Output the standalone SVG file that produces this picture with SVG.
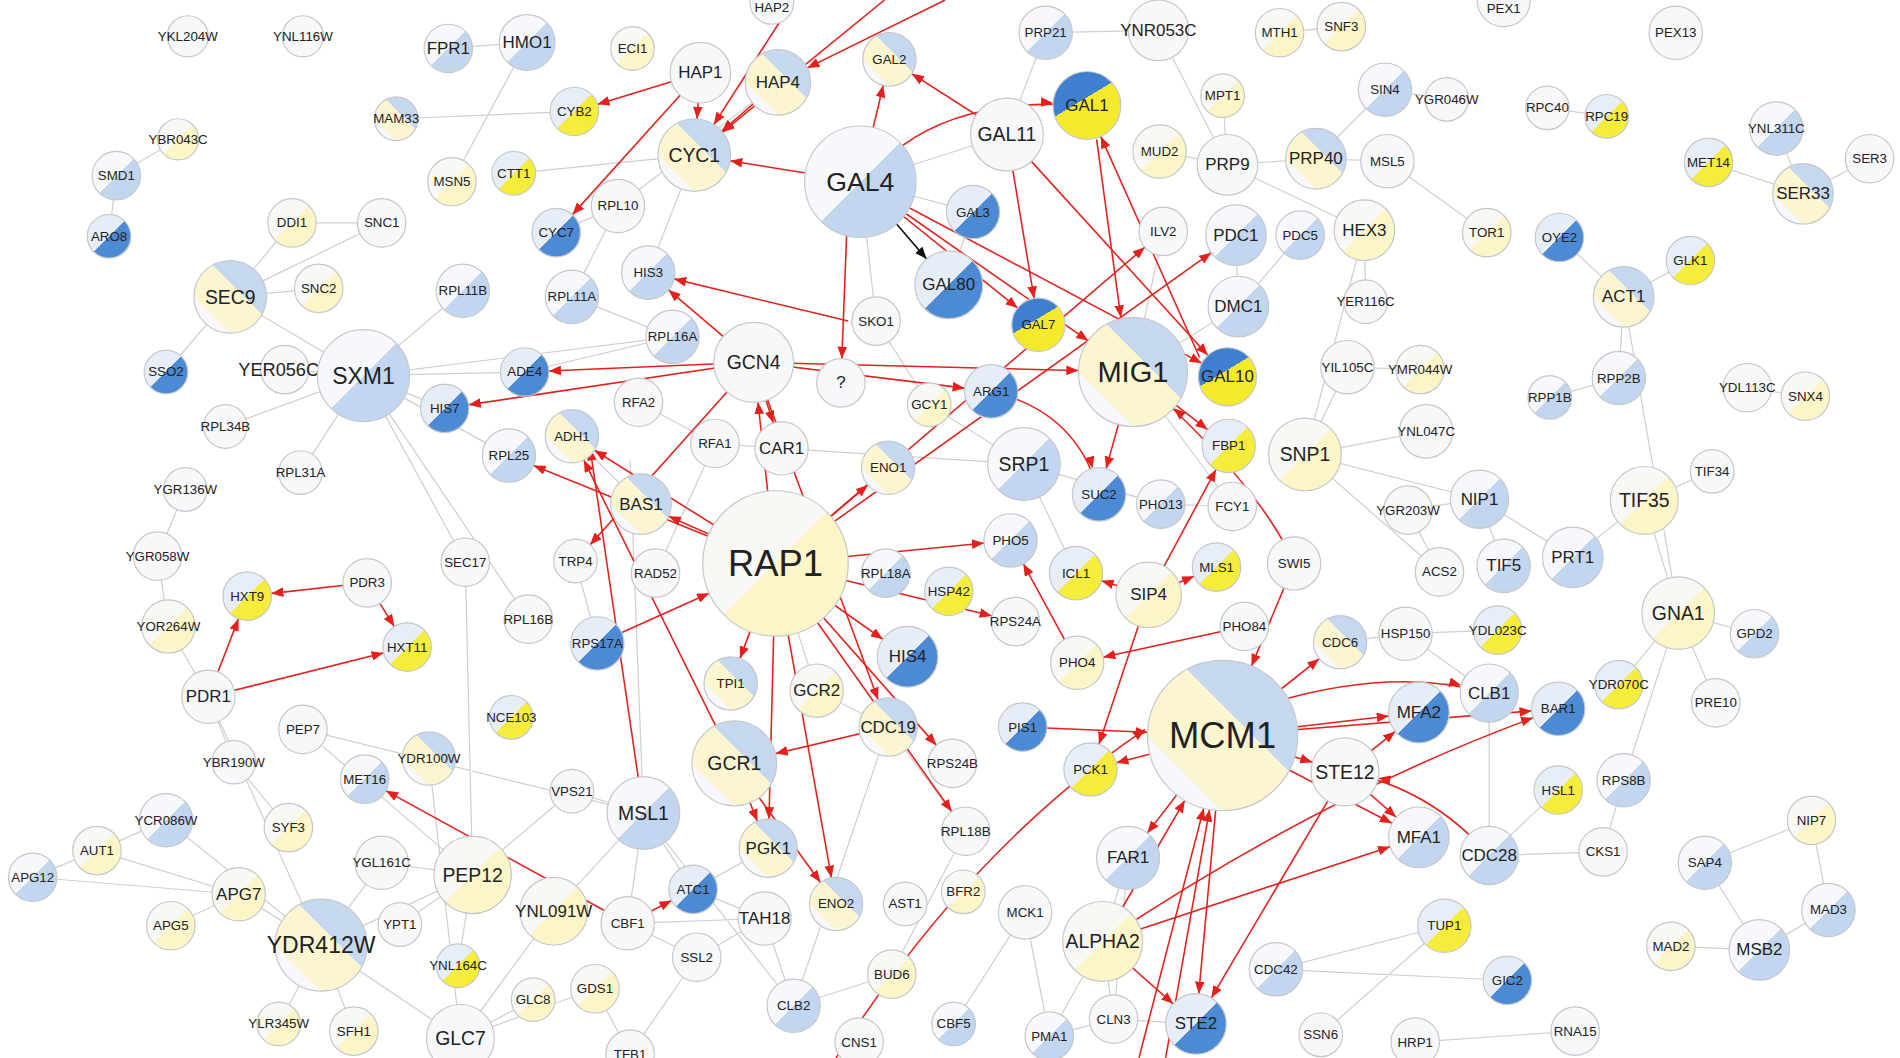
<svg xmlns="http://www.w3.org/2000/svg" width="1900" height="1058" viewBox="0 0 1900 1058">
<style>
text{font-family:"Liberation Sans",Arial,sans-serif;fill:#222;text-anchor:middle;dominant-baseline:central;font-size:11px}
.m{font-size:14px}.l{font-size:16px}
circle{stroke:#c4c8cc;stroke-width:1}
.r{stroke:#e5201c;stroke-width:1.3;fill:none}
.g{stroke:#cfcfcf;stroke-width:1;fill:none}
.w{fill:#f7f8fa}.b{fill:url(#gb)}.y{fill:url(#gy)}.yb{fill:url(#gyb)}.B{fill:url(#gB)}.Y{fill:url(#gY)}.BY{fill:url(#gBY)}
</style>
<defs>
<linearGradient id="gb" x1="0" y1="0" x2="1" y2="1"><stop offset="0.5" stop-color="#f6f8fb"/><stop offset="0.5" stop-color="#c3d6ef"/></linearGradient>
<linearGradient id="gy" x1="0" y1="0" x2="1" y2="1"><stop offset="0.5" stop-color="#f8f8f4"/><stop offset="0.5" stop-color="#fbf5c8"/></linearGradient>
<linearGradient id="gyb" x1="1" y1="0" x2="0" y2="1"><stop offset="0.4" stop-color="#c6d8ef"/><stop offset="0.4" stop-color="#fbf6cf"/><stop offset="0.75" stop-color="#fbf6cf"/><stop offset="0.75" stop-color="#f6f8fb"/></linearGradient>
<linearGradient id="gB" x1="0" y1="0" x2="1" y2="1"><stop offset="0.5" stop-color="#e6edf7"/><stop offset="0.5" stop-color="#4d8ad4"/></linearGradient>
<linearGradient id="gY" x1="0" y1="0" x2="1" y2="1"><stop offset="0.5" stop-color="#e8eef7"/><stop offset="0.5" stop-color="#f6ec3c"/></linearGradient>
<linearGradient id="gBY" x1="0" y1="0" x2="0.6" y2="1"><stop offset="0.5" stop-color="#3f7fd0"/><stop offset="0.5" stop-color="#f5e92e"/></linearGradient>
<marker id="m0" markerUnits="userSpaceOnUse" markerWidth="12" markerHeight="8" refX="10" refY="4" orient="auto"><path d="M0,0L10,4L0,8z" fill="#e5201c"/></marker>
<marker id="m18" markerUnits="userSpaceOnUse" markerWidth="12" markerHeight="8" refX="28" refY="4" orient="auto"><path d="M0,0L10,4L0,8z" fill="#e5201c"/></marker>
<marker id="m20" markerUnits="userSpaceOnUse" markerWidth="12" markerHeight="8" refX="30" refY="4" orient="auto"><path d="M0,0L10,4L0,8z" fill="#e5201c"/></marker>
<marker id="m22" markerUnits="userSpaceOnUse" markerWidth="12" markerHeight="8" refX="32" refY="4" orient="auto"><path d="M0,0L10,4L0,8z" fill="#e5201c"/></marker>
<marker id="m24" markerUnits="userSpaceOnUse" markerWidth="12" markerHeight="8" refX="34" refY="4" orient="auto"><path d="M0,0L10,4L0,8z" fill="#e5201c"/></marker>
<marker id="m25" markerUnits="userSpaceOnUse" markerWidth="12" markerHeight="8" refX="35" refY="4" orient="auto"><path d="M0,0L10,4L0,8z" fill="#e5201c"/></marker>
<marker id="m26" markerUnits="userSpaceOnUse" markerWidth="12" markerHeight="8" refX="36" refY="4" orient="auto"><path d="M0,0L10,4L0,8z" fill="#e5201c"/></marker>
<marker id="m27" markerUnits="userSpaceOnUse" markerWidth="12" markerHeight="8" refX="37" refY="4" orient="auto"><path d="M0,0L10,4L0,8z" fill="#e5201c"/></marker>
<marker id="m28" markerUnits="userSpaceOnUse" markerWidth="12" markerHeight="8" refX="38" refY="4" orient="auto"><path d="M0,0L10,4L0,8z" fill="#e5201c"/></marker>
<marker id="m30" markerUnits="userSpaceOnUse" markerWidth="12" markerHeight="8" refX="40" refY="4" orient="auto"><path d="M0,0L10,4L0,8z" fill="#e5201c"/></marker>
<marker id="m33" markerUnits="userSpaceOnUse" markerWidth="12" markerHeight="8" refX="43" refY="4" orient="auto"><path d="M0,0L10,4L0,8z" fill="#e5201c"/></marker>
<marker id="m35" markerUnits="userSpaceOnUse" markerWidth="12" markerHeight="8" refX="45" refY="4" orient="auto"><path d="M0,0L10,4L0,8z" fill="#e5201c"/></marker>
<marker id="m45" markerUnits="userSpaceOnUse" markerWidth="12" markerHeight="8" refX="55" refY="4" orient="auto"><path d="M0,0L10,4L0,8z" fill="#e5201c"/></marker>
<marker id="m60" markerUnits="userSpaceOnUse" markerWidth="12" markerHeight="8" refX="70" refY="4" orient="auto"><path d="M0,0L10,4L0,8z" fill="#e5201c"/></marker>
<marker id="m62" markerUnits="userSpaceOnUse" markerWidth="12" markerHeight="8" refX="72" refY="4" orient="auto"><path d="M0,0L10,4L0,8z" fill="#e5201c"/></marker>
<marker id="k28" markerUnits="userSpaceOnUse" markerWidth="12" markerHeight="8" refX="38" refY="4" orient="auto"><path d="M0,0L10,4L0,8z" fill="#111"/></marker>
</defs>
<rect width="1900" height="1058" fill="#ffffff"/>
<g transform="scale(1.2117)">
<g id="connectors">
<g class="g">
<path d="M370,40L435,35M435,35L373,150M327,98L474,92M96,145L147,115M96,145L90,195M190,245L315,184M190,245L263,238M190,245L241,184M190,245L137,307M190,245L300,310M241,184L315,184M300,310L382,240M300,310L555,278M300,310L433,307M300,310L186,352M300,310L248,390M300,310L420,376M300,310L384,464M300,310L436,511M300,310L367,337M153,404L130,459M130,459L139,517M139,517L172,575M172,575L193,629M193,629L238,683M137,677L265,780M137,677L80,702M80,702L27,724M27,724L197,738M197,738L80,702M197,738L141,764M197,738L265,780M265,780L172,575M265,780L315,712M265,780L390,722M265,780L230,845M265,780L292,851M265,780L380,857M390,722L315,712M390,722L250,602M390,722L330,763M390,722L472,653M390,722L384,464M390,722L378,797M354,626L380,857M531,671L457,752M531,671L472,653M531,671L250,602M531,671L572,734M457,752L380,857M380,857L491,816M440,825L380,857M491,816L520,870M575,790L520,870M575,790L631,758M518,762L631,758M531,671L518,762M518,762L575,790M531,671L520,380M642,68L510,170M573,128L424,143M573,128L535,225M510,170L459,192M510,170L472,245M472,245L555,278M555,278L433,307M710,150L831,111M710,150L783,235M710,150L803,175M783,235L803,175M831,111L863,27M956,25L863,27M956,25L1013,136M1056,27L1107,22M1009,79L1013,136M957,125L1013,136M1013,136L1086,131M1086,131L1145,133M1086,131L1143,74M1143,74L1194,82M1145,133L1227,192M1126,190L1013,136M1126,190L1077,375M1020,194L1022,253M1022,253L1073,194M1022,253L935,307M960,191L935,307M1077,375L1112,303M1077,375L1177,356M1112,303L1172,305M1127,249L1126,190M1221,412L1241,467M1221,412L1298,460M1221,412L1162,421M1221,412L1077,375M1298,460L1357,413M1357,413L1413,389M1357,413L1385,506M1385,506L1448,523M1385,506L1336,565M1385,506L1416,580M1385,506L1340,644M1340,644L1323,703M1323,703L1229,706M1229,706L1229,572M1229,706L1286,652M1495,677L1407,712M1407,712L1452,784M1509,751L1452,784M1379,781L1452,784M1509,751L1495,677M1340,245L1287,196M1340,245L1395,215M1340,245L1336,312M1336,312L1279,328M1340,245L1385,506M1488,160L1543,131M1488,160L1466,106M1488,160L1410,134M1277,89L1326,96M1442,320L1490,327M655,830L531,671M655,830L736,804M655,830L733,600M846,753L866,855M846,753L787,845M866,855L919,841M919,841L987,845M1053,800L1244,809M1192,764L1090,854M1192,764L1053,800M1168,860L1300,851M931,708L919,841M910,777L919,841M910,777L866,855M910,777L931,708M845,383L645,370M845,383L958,416M845,383L888,473M845,383L767,334M1017,418L958,416M1017,418L935,307M1162,421L1188,472M1077,375L1188,472M1160,523L1106,530M1160,523L1236,520M1160,523L1229,572M590,366L527,332M590,366L645,370M541,473L590,366M493,531L475,463M529,416L472,360M640,465L674,570M674,570L733,600M733,600L797,686M634,700L572,734M631,758L572,734M631,758L655,830M723,265L710,150M723,265L767,334M818,323L622,299M300,310L235,305M735,804L797,686"/>
</g>
<g class="r">
<path marker-end="url(#m30)" d="M710,150L573,128"/>
<path marker-end="url(#m22)" d="M710,150L734,49"/>
<path marker-end="url(#m28)" d="M745,120Q800,80 897,87"/>
<path marker-end="url(#m24)" d="M710,150L1013,311"/>
<path marker-end="url(#m22)" d="M710,150L857,268"/>
<path marker-end="url(#m45)" d="M710,150L935,307"/>
<path marker-end="url(#m20)" d="M700,160L694,316"/>
<path marker-end="url(#k28)" d="M710,150L783,235" stroke="#111"/>
<path marker-end="url(#m22)" d="M831,111L734,49"/>
<path marker-end="url(#m22)" d="M831,111L857,268"/>
<path marker-end="url(#m24)" d="M831,111L1013,311"/>
<path marker-end="url(#m28)" d="M990,295L897,87"/>
<path marker-end="url(#m0)" d="M905,115L925,262"/>
<path marker-end="url(#m30)" d="M578,60L573,128"/>
<path marker-end="url(#m20)" d="M578,60L474,92"/>
<path marker-end="url(#m20)" d="M578,60L459,192"/>
<path marker-end="url(#m30)" d="M642,68L573,128"/>
<path marker-end="url(#m30)" d="M655,0L573,128"/>
<path marker-end="url(#m30)" d="M730,0L573,128"/>
<path marker-end="url(#m27)" d="M780,0L642,68"/>
<path marker-end="url(#m22)" d="M700,265L535,225"/>
<path marker-end="url(#m22)" d="M622,299L535,225"/>
<path marker-end="url(#m20)" d="M622,299L433,307"/>
<path marker-end="url(#m20)" d="M622,299L367,337"/>
<path marker-end="url(#m22)" d="M622,299L818,323"/>
<path marker-end="url(#m45)" d="M622,299L935,307"/>
<path marker-end="url(#m22)" d="M622,299L645,370"/>
<path marker-end="url(#m24)" d="M622,299L733,600"/>
<path marker-end="url(#m18)" d="M622,299L475,463"/>
<path marker-end="url(#m33)" d="M640,465L622,299"/>
<path marker-end="url(#m25)" d="M640,465L529,416"/>
<path marker-end="url(#m22)" d="M640,465L472,360"/>
<path marker-end="url(#m22)" d="M640,465L420,376"/>
<path marker-end="url(#m22)" d="M640,465L733,386"/>
<path marker-end="url(#m22)" d="M640,465L834,446"/>
<path marker-end="url(#m25)" d="M640,465L749,542"/>
<path marker-end="url(#m20)" d="M640,465L838,513"/>
<path marker-end="url(#m20)" d="M640,465L786,630"/>
<path marker-end="url(#m20)" d="M640,465L797,686"/>
<path marker-end="url(#m22)" d="M640,465L690,746"/>
<path marker-end="url(#m24)" d="M640,465L634,700"/>
<path marker-end="url(#m22)" d="M640,465L603,564"/>
<path marker-end="url(#m20)" d="M640,465L960,191"/>
<path marker-end="url(#m25)" d="M640,465L1020,194"/>
<path marker-end="url(#m60)" d="M493,531L640,465"/>
<path marker-end="url(#m24)" d="M606,630L634,700"/>
<path marker-end="url(#m22)" d="M606,630L690,746"/>
<path marker-end="url(#m35)" d="M733,600L606,630"/>
<path marker-end="url(#m22)" d="M606,630L472,360"/>
<path marker-end="url(#m22)" d="M935,307L907,408"/>
<path marker-end="url(#m22)" d="M935,307L1014,368"/>
<path marker-end="url(#m45)" d="M1068,465Q1040,400 935,307"/>
<path marker-end="url(#m62)" d="M1068,465L1009,607"/>
<path marker-end="url(#m20)" d="M948,491L1004,468"/>
<path marker-end="url(#m22)" d="M948,491L888,473"/>
<path marker-end="url(#m22)" d="M948,491L900,635"/>
<path marker-end="url(#m22)" d="M948,491L1014,368"/>
<path marker-end="url(#m22)" d="M818,323Q890,340 907,408"/>
<path marker-end="url(#m22)" d="M1027,517L889,547"/>
<path marker-end="url(#m22)" d="M889,547L834,446"/>
<path marker-end="url(#m22)" d="M1009,607L1106,530"/>
<path marker-end="url(#m24)" d="M1050,580Q1150,550 1229,572"/>
<path marker-end="url(#m25)" d="M1009,607L1171,588"/>
<path marker-end="url(#m22)" d="M1009,607L1286,585"/>
<path marker-end="url(#m25)" d="M1009,607L1171,691"/>
<path marker-end="url(#m25)" d="M1110,637L1171,588"/>
<path marker-end="url(#m25)" d="M1110,637L1171,691"/>
<path marker-end="url(#m28)" d="M1009,607L1110,637"/>
<path marker-end="url(#m26)" d="M1009,607L931,708"/>
<path marker-end="url(#m25)" d="M1009,607L987,845"/>
<path marker-end="url(#m22)" d="M1009,607L900,635"/>
<path marker-end="url(#m62)" d="M844,600L1009,607"/>
<path marker-end="url(#m25)" d="M910,777L1171,691"/>
<path marker-end="url(#m22)" d="M910,777Q1100,650 1286,585"/>
<path marker-end="url(#m25)" d="M910,777L987,845"/>
<path marker-end="url(#m62)" d="M940,873L1009,607"/>
<path marker-end="url(#m62)" d="M962,873L1009,607"/>
<path marker-end="url(#m62)" d="M910,777L1009,607"/>
<path marker-end="url(#m25)" d="M1110,637L987,845"/>
<path marker-end="url(#m28)" d="M1229,706Q1180,650 1110,637"/>
<path marker-end="url(#m0)" d="M690,873Q800,700 945,602"/>
<path marker-end="url(#m20)" d="M172,575L204,492"/>
<path marker-end="url(#m20)" d="M172,575L336,534"/>
<path marker-end="url(#m20)" d="M303,481L204,492"/>
<path marker-end="url(#m20)" d="M303,481L336,534"/>
<path marker-end="url(#m20)" d="M518,762L301,643"/>
<path marker-end="url(#m20)" d="M518,762L572,734"/>
<path marker-end="url(#m0)" d="M531,671L487,370"/>
</g>
</g>
<g id="nodes">
<g id="n1"><circle cx="155" cy="30" r="17" class="w"/><text x="155" y="30">YKL204W</text></g>
<g id="n2"><circle cx="250" cy="30" r="17" class="w"/><text x="250" y="30">YNL116W</text></g>
<g id="n3"><circle cx="370" cy="40" r="20" class="b"/><text x="370" y="40" class="m">FPR1</text></g>
<g id="n4"><circle cx="435" cy="35" r="23" class="b"/><text x="435" y="35" class="m">HMO1</text></g>
<g id="n5"><circle cx="522" cy="40" r="18" class="y"/><text x="522" y="40">ECI1</text></g>
<g id="n6"><circle cx="637" cy="2" r="18" class="w"/><text x="637" y="6">HAP2</text></g>
<g id="n7"><circle cx="578" cy="60" r="25" class="w"/><text x="578" y="60" class="m">HAP1</text></g>
<g id="n8"><circle cx="642" cy="68" r="27" class="yb"/><text x="642" y="68" class="m">HAP4</text></g>
<g id="n9"><circle cx="573" cy="128" r="30" class="yb"/><text x="573" y="128" class="l">CYC1</text></g>
<g id="n10"><circle cx="474" cy="92" r="20" class="Y"/><text x="474" y="92">CYB2</text></g>
<g id="n11"><circle cx="327" cy="98" r="18" class="yb"/><text x="327" y="98">MAM33</text></g>
<g id="n12"><circle cx="424" cy="143" r="18" class="Y"/><text x="424" y="143">CTT1</text></g>
<g id="n13"><circle cx="373" cy="150" r="20" class="y"/><text x="373" y="150">MSN5</text></g>
<g id="n14"><circle cx="147" cy="115" r="17" class="y"/><text x="147" y="115">YBR043C</text></g>
<g id="n15"><circle cx="96" cy="145" r="20" class="b"/><text x="96" y="145">SMD1</text></g>
<g id="n16"><circle cx="90" cy="195" r="18" class="B"/><text x="90" y="195">ARO8</text></g>
<g id="n17"><circle cx="241" cy="184" r="20" class="y"/><text x="241" y="184">DDI1</text></g>
<g id="n18"><circle cx="315" cy="184" r="20" class="w"/><text x="315" y="184">SNC1</text></g>
<g id="n19"><circle cx="190" cy="245" r="30" class="yb"/><text x="190" y="245" class="l">SEC9</text></g>
<g id="n20"><circle cx="263" cy="238" r="20" class="y"/><text x="263" y="238">SNC2</text></g>
<g id="n21"><circle cx="137" cy="307" r="18" class="B"/><text x="137" y="307">SSO2</text></g>
<g id="n22"><circle cx="235" cy="305" r="20" class="w"/><text x="235" y="305" style="font-size:15px">YER056CA</text></g>
<g id="n23"><circle cx="300" cy="310" r="38" class="b"/><text x="300" y="310" style="font-size:19px">SXM1</text></g>
<g id="n24"><circle cx="186" cy="352" r="18" class="w"/><text x="186" y="352">RPL34B</text></g>
<g id="n25"><circle cx="248" cy="390" r="18" class="w"/><text x="248" y="390">RPL31A</text></g>
<g id="n26"><circle cx="153" cy="404" r="18" class="w"/><text x="153" y="404">YGR136W</text></g>
<g id="n27"><circle cx="130" cy="459" r="20" class="w"/><text x="130" y="459">YGR058W</text></g>
<g id="n28"><circle cx="204" cy="492" r="20" class="Y"/><text x="204" y="492">HXT9</text></g>
<g id="n29"><circle cx="139" cy="517" r="22" class="y"/><text x="139" y="517">YOR264W</text></g>
<g id="n30"><circle cx="303" cy="481" r="20" class="w"/><text x="303" y="481">PDR3</text></g>
<g id="n31"><circle cx="336" cy="534" r="20" class="Y"/><text x="336" y="534">HXT11</text></g>
<g id="n32"><circle cx="172" cy="575" r="22" class="w"/><text x="172" y="575" class="m">PDR1</text></g>
<g id="n33"><circle cx="250" cy="602" r="20" class="w"/><text x="250" y="602">PEP7</text></g>
<g id="n34"><circle cx="193" cy="629" r="18" class="w"/><text x="193" y="629">YBR190W</text></g>
<g id="n35"><circle cx="354" cy="626" r="22" class="yb"/><text x="354" y="626">YDR100W</text></g>
<g id="n36"><circle cx="422" cy="592" r="18" class="Y"/><text x="422" y="592">NCE103</text></g>
<g id="n37"><circle cx="301" cy="643" r="20" class="b"/><text x="301" y="643">MET16</text></g>
<g id="n38"><circle cx="472" cy="653" r="18" class="w"/><text x="472" y="653">VPS21</text></g>
<g id="n39"><circle cx="238" cy="683" r="20" class="y"/><text x="238" y="683">SYF3</text></g>
<g id="n40"><circle cx="137" cy="677" r="22" class="b"/><text x="137" y="677">YCR086W</text></g>
<g id="n41"><circle cx="80" cy="702" r="20" class="y"/><text x="80" y="702">AUT1</text></g>
<g id="n42"><circle cx="27" cy="724" r="20" class="b"/><text x="27" y="724">APG12</text></g>
<g id="n43"><circle cx="197" cy="738" r="22" class="y"/><text x="197" y="738" class="m">APG7</text></g>
<g id="n44"><circle cx="141" cy="764" r="20" class="y"/><text x="141" y="764">APG5</text></g>
<g id="n45"><circle cx="315" cy="712" r="22" class="w"/><text x="315" y="712">YGL161C</text></g>
<g id="n46"><circle cx="390" cy="722" r="32" class="y"/><text x="390" y="722" class="l">PEP12</text></g>
<g id="n47"><circle cx="330" cy="763" r="18" class="w"/><text x="330" y="763">YPT1</text></g>
<g id="n48"><circle cx="265" cy="780" r="38" class="yb"/><text x="265" y="780" style="font-size:19px">YDR412W</text></g>
<g id="n49"><circle cx="378" cy="797" r="18" class="Y"/><text x="378" y="797">YNL164C</text></g>
<g id="n50"><circle cx="457" cy="752" r="28" class="y"/><text x="457" y="752" class="m">YNL091W</text></g>
<g id="n51"><circle cx="230" cy="845" r="18" class="y"/><text x="230" y="845">YLR345W</text></g>
<g id="n52"><circle cx="292" cy="851" r="20" class="y"/><text x="292" y="851">SFH1</text></g>
<g id="n53"><circle cx="380" cy="857" r="28" class="w"/><text x="380" y="857" class="l">GLC7</text></g>
<g id="n54"><circle cx="440" cy="825" r="18" class="y"/><text x="440" y="825">GLC8</text></g>
<g id="n55"><circle cx="491" cy="816" r="20" class="y"/><text x="491" y="816">GDS1</text></g>
<g id="n56"><circle cx="520" cy="870" r="20" class="w"/><text x="520" y="870">TFB1</text></g>
<g id="n57"><circle cx="575" cy="790" r="20" class="w"/><text x="575" y="790">SSL2</text></g>
<g id="n58"><circle cx="518" cy="762" r="22" class="w"/><text x="518" y="762">CBF1</text></g>
<g id="n59"><circle cx="572" cy="734" r="20" class="B"/><text x="572" y="734">ATC1</text></g>
<g id="n60"><circle cx="631" cy="758" r="22" class="w"/><text x="631" y="758" class="m">TAH18</text></g>
<g id="n61"><circle cx="634" cy="700" r="24" class="yb"/><text x="634" y="700" class="m">PGK1</text></g>
<g id="n62"><circle cx="690" cy="746" r="22" class="yb"/><text x="690" y="746">ENO2</text></g>
<g id="n63"><circle cx="747" cy="746" r="18" class="w"/><text x="747" y="746">AST1</text></g>
<g id="n64"><circle cx="795" cy="736" r="18" class="y"/><text x="795" y="736">BFR2</text></g>
<g id="n65"><circle cx="846" cy="753" r="22" class="w"/><text x="846" y="753">MCK1</text></g>
<g id="n66"><circle cx="736" cy="804" r="20" class="y"/><text x="736" y="804">BUD6</text></g>
<g id="n67"><circle cx="655" cy="830" r="22" class="b"/><text x="655" y="830">CLB2</text></g>
<g id="n68"><circle cx="709" cy="860" r="20" class="w"/><text x="709" y="860">CNS1</text></g>
<g id="n69"><circle cx="787" cy="845" r="18" class="b"/><text x="787" y="845">CBF5</text></g>
<g id="n70"><circle cx="866" cy="855" r="20" class="b"/><text x="866" y="855">PMA1</text></g>
<g id="n71"><circle cx="919" cy="841" r="20" class="w"/><text x="919" y="841">CLN3</text></g>
<g id="n72"><circle cx="987" cy="845" r="25" class="B"/><text x="987" y="845" class="m">STE2</text></g>
<g id="n73"><circle cx="910" cy="777" r="33" class="y"/><text x="910" y="777" class="l">ALPHA2</text></g>
<g id="n74"><circle cx="931" cy="708" r="26" class="b"/><text x="931" y="708" class="m">FAR1</text></g>
<g id="n75"><circle cx="1053" cy="800" r="22" class="b"/><text x="1053" y="800">CDC42</text></g>
<g id="n76"><circle cx="1090" cy="854" r="18" class="w"/><text x="1090" y="854">SSN6</text></g>
<g id="n77"><circle cx="1244" cy="809" r="20" class="B"/><text x="1244" y="809">GIC2</text></g>
<g id="n78"><circle cx="1192" cy="764" r="22" class="Y"/><text x="1192" y="764">TUP1</text></g>
<g id="n79"><circle cx="1168" cy="860" r="20" class="w"/><text x="1168" y="860">HRP1</text></g>
<g id="n80"><circle cx="1300" cy="851" r="20" class="w"/><text x="1300" y="851">RNA15</text></g>
<g id="n81"><circle cx="531" cy="671" r="30" class="b"/><text x="531" y="671" class="l">MSL1</text></g>
<g id="n82"><circle cx="606" cy="630" r="35" class="yb"/><text x="606" y="630" class="l">GCR1</text></g>
<g id="n83"><circle cx="603" cy="564" r="22" class="yb"/><text x="603" y="564">TPI1</text></g>
<g id="n84"><circle cx="674" cy="570" r="22" class="y"/><text x="674" y="570" class="m">GCR2</text></g>
<g id="n85"><circle cx="733" cy="600" r="24" class="yb"/><text x="733" y="600" class="m">CDC19</text></g>
<g id="n86"><circle cx="786" cy="630" r="20" class="w"/><text x="786" y="630">RPS24B</text></g>
<g id="n87"><circle cx="797" cy="686" r="20" class="w"/><text x="797" y="686">RPL18B</text></g>
<g id="n88"><circle cx="844" cy="600" r="20" class="B"/><text x="844" y="600">PIS1</text></g>
<g id="n89"><circle cx="900" cy="635" r="22" class="Y"/><text x="900" y="635">PCK1</text></g>
<g id="n90"><circle cx="1009" cy="607" r="62" class="yb"/><text x="1009" y="607" style="font-size:30px">MCM1</text></g>
<g id="n91"><circle cx="1110" cy="637" r="28" class="w"/><text x="1110" y="637" class="l">STE12</text></g>
<g id="n92"><circle cx="1171" cy="691" r="25" class="b"/><text x="1171" y="691" class="m">MFA1</text></g>
<g id="n93"><circle cx="1229" cy="706" r="24" class="b"/><text x="1229" y="706" class="m">CDC28</text></g>
<g id="n94"><circle cx="1171" cy="588" r="25" class="B"/><text x="1171" y="588" class="m">MFA2</text></g>
<g id="n95"><circle cx="1229" cy="572" r="24" class="b"/><text x="1229" y="572" class="m">CLB1</text></g>
<g id="n96"><circle cx="1286" cy="585" r="22" class="B"/><text x="1286" y="585">BAR1</text></g>
<g id="n97"><circle cx="1323" cy="703" r="20" class="w"/><text x="1323" y="703">CKS1</text></g>
<g id="n98"><circle cx="1286" cy="652" r="20" class="Y"/><text x="1286" y="652">HSL1</text></g>
<g id="n99"><circle cx="1340" cy="644" r="22" class="b"/><text x="1340" y="644">RPS8B</text></g>
<g id="n100"><circle cx="1336" cy="565" r="20" class="Y"/><text x="1336" y="565">YDR070C</text></g>
<g id="n101"><circle cx="1416" cy="580" r="20" class="w"/><text x="1416" y="580">PRE10</text></g>
<g id="n102"><circle cx="1385" cy="506" r="30" class="y"/><text x="1385" y="506" class="l">GNA1</text></g>
<g id="n103"><circle cx="1448" cy="523" r="20" class="b"/><text x="1448" y="523">GPD2</text></g>
<g id="n104"><circle cx="1495" cy="677" r="20" class="y"/><text x="1495" y="677">NIP7</text></g>
<g id="n105"><circle cx="1407" cy="712" r="22" class="b"/><text x="1407" y="712">SAP4</text></g>
<g id="n106"><circle cx="1509" cy="751" r="22" class="b"/><text x="1509" y="751">MAD3</text></g>
<g id="n107"><circle cx="1379" cy="781" r="20" class="y"/><text x="1379" y="781">MAD2</text></g>
<g id="n108"><circle cx="1452" cy="784" r="25" class="b"/><text x="1452" y="784" class="m">MSB2</text></g>
<g id="n109"><circle cx="749" cy="542" r="25" class="B"/><text x="749" y="542" class="m">HIS4</text></g>
<g id="n110"><circle cx="838" cy="513" r="20" class="w"/><text x="838" y="513">RPS24A</text></g>
<g id="n111"><circle cx="889" cy="547" r="22" class="y"/><text x="889" y="547">PHO4</text></g>
<g id="n112"><circle cx="1160" cy="523" r="22" class="w"/><text x="1160" y="523">HSP150</text></g>
<g id="n113"><circle cx="1236" cy="520" r="20" class="Y"/><text x="1236" y="520">YDL023C</text></g>
<g id="n114"><circle cx="1106" cy="530" r="22" class="yb"/><text x="1106" y="530">CDC6</text></g>
<g id="n115"><circle cx="1027" cy="517" r="20" class="w"/><text x="1027" y="517">PHO84</text></g>
<g id="n116"><circle cx="640" cy="465" r="60" class="y"/><text x="640" y="465" style="font-size:30px">RAP1</text></g>
<g id="n117"><circle cx="731" cy="473" r="20" class="b"/><text x="731" y="473">RPL18A</text></g>
<g id="n118"><circle cx="783" cy="488" r="20" class="Y"/><text x="783" y="488">HSP42</text></g>
<g id="n119"><circle cx="834" cy="446" r="22" class="b"/><text x="834" y="446">PHO5</text></g>
<g id="n120"><circle cx="888" cy="473" r="22" class="Y"/><text x="888" y="473">ICL1</text></g>
<g id="n121"><circle cx="948" cy="491" r="27" class="y"/><text x="948" y="491" class="m">SIP4</text></g>
<g id="n122"><circle cx="1004" cy="468" r="20" class="Y"/><text x="1004" y="468">MLS1</text></g>
<g id="n123"><circle cx="1068" cy="465" r="22" class="w"/><text x="1068" y="465">SWI5</text></g>
<g id="n124"><circle cx="1017" cy="418" r="20" class="w"/><text x="1017" y="418">FCY1</text></g>
<g id="n125"><circle cx="958" cy="416" r="20" class="b"/><text x="958" y="416">PHO13</text></g>
<g id="n126"><circle cx="907" cy="408" r="22" class="B"/><text x="907" y="408">SUC2</text></g>
<g id="n127"><circle cx="845" cy="383" r="30" class="b"/><text x="845" y="383" class="l">SRP1</text></g>
<g id="n128"><circle cx="733" cy="386" r="22" class="yb"/><text x="733" y="386">ENO1</text></g>
<g id="n129"><circle cx="645" cy="370" r="22" class="w"/><text x="645" y="370" class="m">CAR1</text></g>
<g id="n130"><circle cx="590" cy="366" r="20" class="w"/><text x="590" y="366">RFA1</text></g>
<g id="n131"><circle cx="527" cy="332" r="20" class="w"/><text x="527" y="332">RFA2</text></g>
<g id="n132"><circle cx="472" cy="360" r="22" class="yb"/><text x="472" y="360">ADH1</text></g>
<g id="n133"><circle cx="529" cy="416" r="25" class="yb"/><text x="529" y="416" class="m">BAS1</text></g>
<g id="n134"><circle cx="475" cy="463" r="18" class="w"/><text x="475" y="463">TRP4</text></g>
<g id="n135"><circle cx="541" cy="473" r="20" class="w"/><text x="541" y="473">RAD52</text></g>
<g id="n136"><circle cx="493" cy="531" r="22" class="B"/><text x="493" y="531">RPS17A</text></g>
<g id="n137"><circle cx="436" cy="511" r="20" class="w"/><text x="436" y="511">RPL16B</text></g>
<g id="n138"><circle cx="384" cy="464" r="20" class="w"/><text x="384" y="464">SEC17</text></g>
<g id="n139"><circle cx="420" cy="376" r="22" class="b"/><text x="420" y="376">RPL25</text></g>
<g id="n140"><circle cx="367" cy="337" r="20" class="B"/><text x="367" y="337">HIS7</text></g>
<g id="n141"><circle cx="433" cy="307" r="20" class="B"/><text x="433" y="307">ADE4</text></g>
<g id="n142"><circle cx="622" cy="299" r="33" class="w"/><text x="622" y="299" class="l">GCN4</text></g>
<g id="n143"><circle cx="694" cy="316" r="20" class="w"/><text x="694" y="316" class="m">?</text></g>
<g id="n144"><circle cx="818" cy="323" r="22" class="B"/><text x="818" y="323">ARG1</text></g>
<g id="n145"><circle cx="767" cy="334" r="18" class="y"/><text x="767" y="334">GCY1</text></g>
<g id="n146"><circle cx="935" cy="307" r="45" class="yb"/><text x="935" y="307" style="font-size:24px">MIG1</text></g>
<g id="n147"><circle cx="1013" cy="311" r="24" class="BY"/><text x="1013" y="311" class="m">GAL10</text></g>
<g id="n148"><circle cx="1014" cy="368" r="22" class="Y"/><text x="1014" y="368">FBP1</text></g>
<g id="n149"><circle cx="1077" cy="375" r="30" class="y"/><text x="1077" y="375" class="l">SNP1</text></g>
<g id="n150"><circle cx="1177" cy="356" r="22" class="w"/><text x="1177" y="356">YNL047C</text></g>
<g id="n151"><circle cx="1221" cy="412" r="24" class="b"/><text x="1221" y="412" class="m">NIP1</text></g>
<g id="n152"><circle cx="1241" cy="467" r="22" class="b"/><text x="1241" y="467" class="m">TIF5</text></g>
<g id="n153"><circle cx="1298" cy="460" r="25" class="b"/><text x="1298" y="460" class="m">PRT1</text></g>
<g id="n154"><circle cx="1188" cy="472" r="20" class="w"/><text x="1188" y="472">ACS2</text></g>
<g id="n155"><circle cx="1162" cy="421" r="20" class="w"/><text x="1162" y="421">YGR203W</text></g>
<g id="n156"><circle cx="1357" cy="413" r="28" class="y"/><text x="1357" y="413" class="l">TIF35</text></g>
<g id="n157"><circle cx="1413" cy="389" r="18" class="w"/><text x="1413" y="389">TIF34</text></g>
<g id="n158"><circle cx="1112" cy="303" r="22" class="w"/><text x="1112" y="303">YIL105C</text></g>
<g id="n159"><circle cx="1172" cy="305" r="20" class="y"/><text x="1172" y="305">YMR044W</text></g>
<g id="n160"><circle cx="1127" cy="249" r="18" class="w"/><text x="1127" y="249">YER116C</text></g>
<g id="n161"><circle cx="1126" cy="190" r="25" class="y"/><text x="1126" y="190" class="m">HEX3</text></g>
<g id="n162"><circle cx="1073" cy="194" r="20" class="b"/><text x="1073" y="194">PDC5</text></g>
<g id="n163"><circle cx="1020" cy="194" r="25" class="b"/><text x="1020" y="194" class="m">PDC1</text></g>
<g id="n164"><circle cx="1022" cy="253" r="25" class="b"/><text x="1022" y="253" class="m">DMC1</text></g>
<g id="n165"><circle cx="960" cy="191" r="20" class="w"/><text x="960" y="191">ILV2</text></g>
<g id="n166"><circle cx="783" cy="235" r="28" class="B"/><text x="783" y="235" class="m">GAL80</text></g>
<g id="n167"><circle cx="857" cy="268" r="22" class="BY"/><text x="857" y="268">GAL7</text></g>
<g id="n168"><circle cx="803" cy="175" r="22" class="B"/><text x="803" y="175">GAL3</text></g>
<g id="n169"><circle cx="723" cy="265" r="20" class="w"/><text x="723" y="265">SKO1</text></g>
<g id="n170"><circle cx="535" cy="225" r="22" class="b"/><text x="535" y="225">HIS3</text></g>
<g id="n171"><circle cx="555" cy="278" r="22" class="b"/><text x="555" y="278">RPL16A</text></g>
<g id="n172"><circle cx="472" cy="245" r="22" class="b"/><text x="472" y="245">RPL11A</text></g>
<g id="n173"><circle cx="382" cy="240" r="22" class="b"/><text x="382" y="240">RPL11B</text></g>
<g id="n174"><circle cx="510" cy="170" r="22" class="w"/><text x="510" y="170">RPL10</text></g>
<g id="n175"><circle cx="459" cy="192" r="20" class="B"/><text x="459" y="192">CYC7</text></g>
<g id="n176"><circle cx="710" cy="150" r="46" class="b"/><text x="710" y="150" style="font-size:22px">GAL4</text></g>
<g id="n177"><circle cx="734" cy="49" r="22" class="yb"/><text x="734" y="49">GAL2</text></g>
<g id="n178"><circle cx="897" cy="87" r="28" class="BY"/><text x="897" y="87" class="m">GAL1</text></g>
<g id="n179"><circle cx="831" cy="111" r="30" class="w"/><text x="831" y="111" class="l">GAL11</text></g>
<g id="n180"><circle cx="956" cy="25" r="25" class="w"/><text x="956" y="25" class="m">YNR053C</text></g>
<g id="n181"><circle cx="863" cy="27" r="22" class="b"/><text x="863" y="27">PRP21</text></g>
<g id="n182"><circle cx="1056" cy="27" r="20" class="y"/><text x="1056" y="27">MTH1</text></g>
<g id="n183"><circle cx="1107" cy="22" r="20" class="y"/><text x="1107" y="22">SNF3</text></g>
<g id="n184"><circle cx="1009" cy="79" r="18" class="y"/><text x="1009" y="79">MPT1</text></g>
<g id="n185"><circle cx="957" cy="125" r="22" class="y"/><text x="957" y="125">MUD2</text></g>
<g id="n186"><circle cx="1013" cy="136" r="25" class="w"/><text x="1013" y="136" class="m">PRP9</text></g>
<g id="n187"><circle cx="1086" cy="131" r="25" class="yb"/><text x="1086" y="131" class="m">PRP40</text></g>
<g id="n188"><circle cx="1145" cy="133" r="22" class="w"/><text x="1145" y="133">MSL5</text></g>
<g id="n189"><circle cx="1143" cy="74" r="22" class="b"/><text x="1143" y="74">SIN4</text></g>
<g id="n190"><circle cx="1194" cy="82" r="18" class="w"/><text x="1194" y="82">YGR046W</text></g>
<g id="n191"><circle cx="1241" cy="0" r="22" class="w"/><text x="1241" y="7">PEX1</text></g>
<g id="n192"><circle cx="1383" cy="27" r="22" class="w"/><text x="1383" y="27">PEX13</text></g>
<g id="n193"><circle cx="1277" cy="89" r="18" class="w"/><text x="1277" y="89">RPC40</text></g>
<g id="n194"><circle cx="1326" cy="96" r="18" class="Y"/><text x="1326" y="96">RPC19</text></g>
<g id="n195"><circle cx="1466" cy="106" r="22" class="b"/><text x="1466" y="106">YNL311C</text></g>
<g id="n196"><circle cx="1543" cy="131" r="20" class="w"/><text x="1543" y="131">SER3</text></g>
<g id="n197"><circle cx="1410" cy="134" r="20" class="Y"/><text x="1410" y="134">MET14</text></g>
<g id="n198"><circle cx="1488" cy="160" r="25" class="yb"/><text x="1488" y="160" class="m">SER33</text></g>
<g id="n199"><circle cx="1227" cy="192" r="20" class="y"/><text x="1227" y="192">TOR1</text></g>
<g id="n200"><circle cx="1287" cy="196" r="20" class="B"/><text x="1287" y="196">OYE2</text></g>
<g id="n201"><circle cx="1395" cy="215" r="20" class="Y"/><text x="1395" y="215">GLK1</text></g>
<g id="n202"><circle cx="1340" cy="245" r="25" class="yb"/><text x="1340" y="245" class="m">ACT1</text></g>
<g id="n203"><circle cx="1336" cy="312" r="22" class="b"/><text x="1336" y="312">RPP2B</text></g>
<g id="n204"><circle cx="1279" cy="328" r="18" class="b"/><text x="1279" y="328">RPP1B</text></g>
<g id="n205"><circle cx="1442" cy="320" r="20" class="w"/><text x="1442" y="320">YDL113C</text></g>
<g id="n206"><circle cx="1490" cy="327" r="20" class="y"/><text x="1490" y="327">SNX4</text></g>
</g>
</g>
</svg>
